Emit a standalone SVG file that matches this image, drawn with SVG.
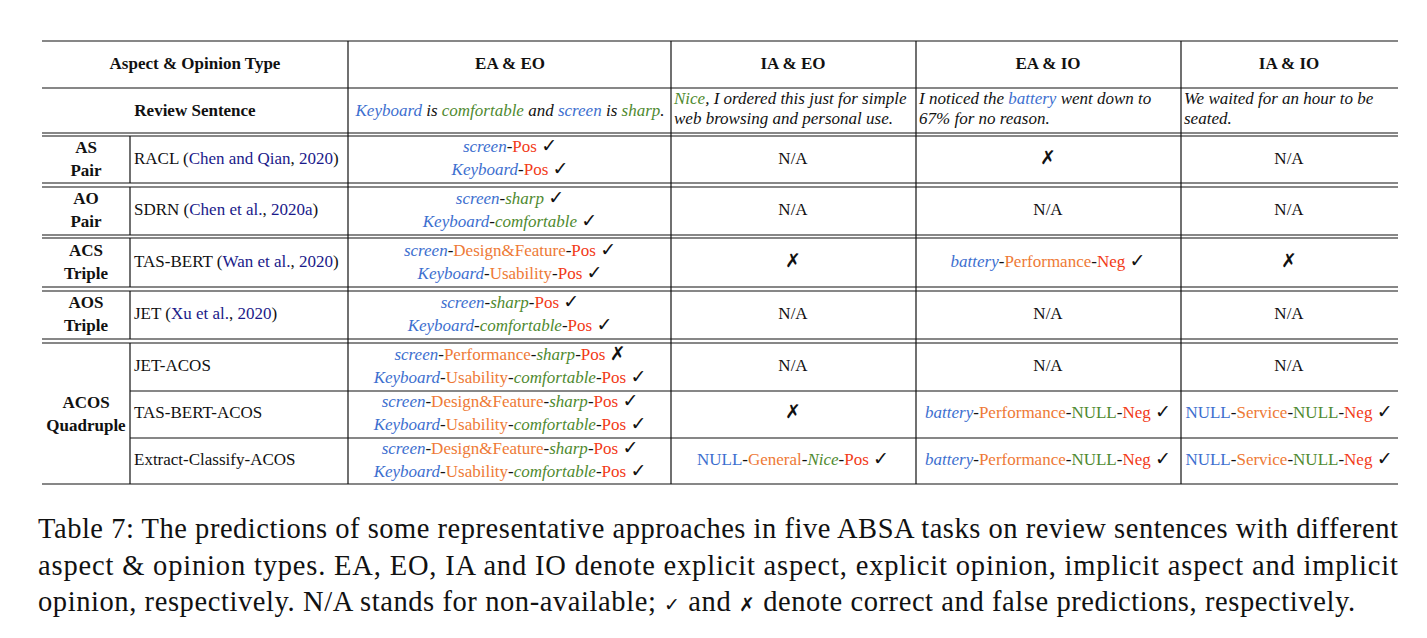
<svg xmlns="http://www.w3.org/2000/svg" width="1427" height="638" viewBox="0 0 1427 638">
<style>
text{font-family:"Liberation Serif","DejaVu Serif",serif;font-size:17px;fill:#111}
.b{font-weight:bold}
.i{font-style:italic}
.c{text-anchor:middle}
.A{fill:#3d6fcf}
.O{fill:#4f8a30}
.C{fill:#ee7a36}
.S{fill:#f23a18}
.R{fill:#1a1a8a}
.k{font-family:"DejaVu Sans",sans-serif;font-size:19px}
.cap{font-size:28.5px}
line{stroke:#111;stroke-width:1.2}
</style>
<rect width="1427" height="638" fill="#fff"/>
<g id="connectors">
<line x1="42" y1="41" x2="1398" y2="41"/>
<line x1="42" y1="88" x2="1398" y2="88"/>
<line x1="42" y1="133" x2="1398" y2="133"/><line x1="42" y1="136" x2="1398" y2="136"/>
<line x1="42" y1="183" x2="1398" y2="183"/><line x1="42" y1="187" x2="1398" y2="187"/>
<line x1="42" y1="235" x2="1398" y2="235"/><line x1="42" y1="238" x2="1398" y2="238"/>
<line x1="42" y1="287" x2="1398" y2="287"/><line x1="42" y1="291" x2="1398" y2="291"/>
<line x1="42" y1="339" x2="1398" y2="339"/><line x1="42" y1="343" x2="1398" y2="343"/>
<line x1="130" y1="391" x2="1398" y2="391"/>
<line x1="130" y1="438" x2="1398" y2="438"/>
<line x1="42" y1="484" x2="1398" y2="484"/>
<line x1="348" y1="41" x2="348" y2="484"/>
<line x1="671" y1="41" x2="671" y2="484"/>
<line x1="916" y1="41" x2="916" y2="484"/>
<line x1="1181" y1="41" x2="1181" y2="484"/>
<line x1="130" y1="136" x2="130" y2="183"/><line x1="130" y1="187" x2="130" y2="235"/>
<line x1="130" y1="238" x2="130" y2="287"/><line x1="130" y1="291" x2="130" y2="339"/>
<line x1="130" y1="343" x2="130" y2="484"/>
</g>
<g id="header">
<text class="b c" x="195" y="69">Aspect &amp; Opinion Type</text>
<text class="b c" x="510" y="69">EA &amp; EO</text>
<text class="b c" x="793" y="69">IA &amp; EO</text>
<text class="b c" x="1048" y="69">EA &amp; IO</text>
<text class="b c" x="1289" y="69">IA &amp; IO</text>
<text class="b c" x="195" y="116">Review Sentence</text>
<text class="i c" x="510" y="116"><tspan class="A">Keyboard</tspan> is <tspan class="O">comfortable</tspan> and <tspan class="A">screen</tspan> is <tspan class="O">sharp</tspan>.</text>
<text class="i" x="674" y="104"><tspan class="O">Nice</tspan>, I ordered this just for simple</text>
<text class="i" x="674" y="124">web browsing and personal use.</text>
<text class="i" x="919" y="104">I noticed the <tspan class="A">battery</tspan> went down to</text>
<text class="i" x="919" y="124">67% for no reason.</text>
<text class="i" x="1184" y="104">We waited for an hour to be</text>
<text class="i" x="1184" y="124">seated.</text>
</g>
<g id="row-as">
<text class="b c" x="86" y="153">AS</text><text class="b c" x="86" y="176">Pair</text>
<text x="134" y="164">RACL (<tspan class="R">Chen and Qian</tspan>, <tspan class="R">2020</tspan>)</text>
<text class="c" x="510" y="152"><tspan class="i A">screen</tspan>-<tspan class="S">Pos</tspan> <tspan class="k">✓</tspan></text>
<text class="c" x="510" y="175"><tspan class="i A">Keyboard</tspan>-<tspan class="S">Pos</tspan> <tspan class="k">✓</tspan></text>
<text class="c" x="793" y="164">N/A</text>
<text class="c k" x="1048" y="164">✗</text>
<text class="c" x="1289" y="164">N/A</text>
</g>
<g id="row-ao">
<text class="b c" x="86" y="204">AO</text><text class="b c" x="86" y="227">Pair</text>
<text x="134" y="215">SDRN (<tspan class="R">Chen et al.</tspan>, <tspan class="R">2020a</tspan>)</text>
<text class="c" x="510" y="204"><tspan class="i A">screen</tspan>-<tspan class="i O">sharp</tspan> <tspan class="k">✓</tspan></text>
<text class="c" x="510" y="227"><tspan class="i A">Keyboard</tspan>-<tspan class="i O">comfortable</tspan> <tspan class="k">✓</tspan></text>
<text class="c" x="793" y="215">N/A</text>
<text class="c" x="1048" y="215">N/A</text>
<text class="c" x="1289" y="215">N/A</text>
</g>
<g id="row-acs">
<text class="b c" x="86" y="256">ACS</text><text class="b c" x="86" y="279">Triple</text>
<text x="134" y="267">TAS-BERT (<tspan class="R">Wan et al.</tspan>, <tspan class="R">2020</tspan>)</text>
<text class="c" x="510" y="256"><tspan class="i A">screen</tspan>-<tspan class="C">Design&amp;Feature</tspan>-<tspan class="S">Pos</tspan> <tspan class="k">✓</tspan></text>
<text class="c" x="510" y="279"><tspan class="i A">Keyboard</tspan>-<tspan class="C">Usability</tspan>-<tspan class="S">Pos</tspan> <tspan class="k">✓</tspan></text>
<text class="c k" x="793" y="267">✗</text>
<text class="c" x="1048" y="267"><tspan class="i A">battery</tspan>-<tspan class="C">Performance</tspan>-<tspan class="S">Neg</tspan> <tspan class="k">✓</tspan></text>
<text class="c k" x="1289" y="267">✗</text>
</g>
<g id="row-aos">
<text class="b c" x="86" y="308">AOS</text><text class="b c" x="86" y="331">Triple</text>
<text x="134" y="319">JET (<tspan class="R">Xu et al.</tspan>, <tspan class="R">2020</tspan>)</text>
<text class="c" x="510" y="308"><tspan class="i A">screen</tspan>-<tspan class="i O">sharp</tspan>-<tspan class="S">Pos</tspan> <tspan class="k">✓</tspan></text>
<text class="c" x="510" y="331"><tspan class="i A">Keyboard</tspan>-<tspan class="i O">comfortable</tspan>-<tspan class="S">Pos</tspan> <tspan class="k">✓</tspan></text>
<text class="c" x="793" y="319">N/A</text>
<text class="c" x="1048" y="319">N/A</text>
<text class="c" x="1289" y="319">N/A</text>
</g>
<g id="row-acos">
<text class="b c" x="86" y="408">ACOS</text><text class="b c" x="86" y="431">Quadruple</text>
<text x="134" y="371">JET-ACOS</text>
<text class="c" x="510" y="360"><tspan class="i A">screen</tspan>-<tspan class="C">Performance</tspan>-<tspan class="i O">sharp</tspan>-<tspan class="S">Pos</tspan> <tspan class="k">✗</tspan></text>
<text class="c" x="510" y="383"><tspan class="i A">Keyboard</tspan>-<tspan class="C">Usability</tspan>-<tspan class="i O">comfortable</tspan>-<tspan class="S">Pos</tspan> <tspan class="k">✓</tspan></text>
<text class="c" x="793" y="371">N/A</text>
<text class="c" x="1048" y="371">N/A</text>
<text class="c" x="1289" y="371">N/A</text>
<text x="134" y="418">TAS-BERT-ACOS</text>
<text class="c" x="510" y="407"><tspan class="i A">screen</tspan>-<tspan class="C">Design&amp;Feature</tspan>-<tspan class="i O">sharp</tspan>-<tspan class="S">Pos</tspan> <tspan class="k">✓</tspan></text>
<text class="c" x="510" y="430"><tspan class="i A">Keyboard</tspan>-<tspan class="C">Usability</tspan>-<tspan class="i O">comfortable</tspan>-<tspan class="S">Pos</tspan> <tspan class="k">✓</tspan></text>
<text class="c k" x="793" y="418">✗</text>
<text class="c" x="1048" y="418"><tspan class="i A">battery</tspan>-<tspan class="C">Performance</tspan>-<tspan class="O">NULL</tspan>-<tspan class="S">Neg</tspan> <tspan class="k">✓</tspan></text>
<text class="c" x="1289" y="418"><tspan class="A">NULL</tspan>-<tspan class="C">Service</tspan>-<tspan class="O">NULL</tspan>-<tspan class="S">Neg</tspan> <tspan class="k">✓</tspan></text>
<text x="134" y="465">Extract-Classify-ACOS</text>
<text class="c" x="510" y="454"><tspan class="i A">screen</tspan>-<tspan class="C">Design&amp;Feature</tspan>-<tspan class="i O">sharp</tspan>-<tspan class="S">Pos</tspan> <tspan class="k">✓</tspan></text>
<text class="c" x="510" y="477"><tspan class="i A">Keyboard</tspan>-<tspan class="C">Usability</tspan>-<tspan class="i O">comfortable</tspan>-<tspan class="S">Pos</tspan> <tspan class="k">✓</tspan></text>
<text class="c" x="793" y="465"><tspan class="A">NULL</tspan>-<tspan class="C">General</tspan>-<tspan class="i O">Nice</tspan>-<tspan class="S">Pos</tspan> <tspan class="k">✓</tspan></text>
<text class="c" x="1048" y="465"><tspan class="i A">battery</tspan>-<tspan class="C">Performance</tspan>-<tspan class="O">NULL</tspan>-<tspan class="S">Neg</tspan> <tspan class="k">✓</tspan></text>
<text class="c" x="1289" y="465"><tspan class="A">NULL</tspan>-<tspan class="C">Service</tspan>-<tspan class="O">NULL</tspan>-<tspan class="S">Neg</tspan> <tspan class="k">✓</tspan></text>
</g>
<g id="caption">
<text class="cap" x="38" y="538" textLength="1360" lengthAdjust="spacing">Table 7: The predictions of some representative approaches in five ABSA tasks on review sentences with different</text>
<text class="cap" x="38" y="575" textLength="1360" lengthAdjust="spacing">aspect &amp; opinion types. EA, EO, IA and IO denote explicit aspect, explicit opinion, implicit aspect and implicit</text>
<text class="cap" x="38" y="611" textLength="1317" lengthAdjust="spacing">opinion, respectively. N/A stands for non-available; <tspan class="k" font-size="28">✓</tspan> and <tspan class="k" font-size="28">✗</tspan> denote correct and false predictions, respectively.</text>
</g>
</svg>
